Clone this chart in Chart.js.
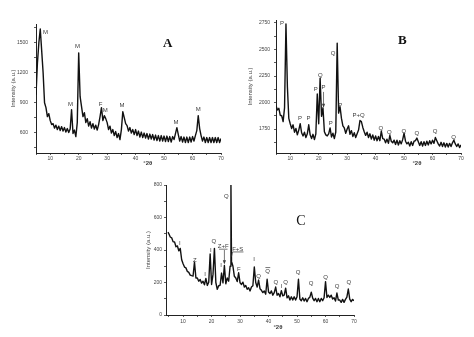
<!DOCTYPE html>
<html>
<head>
<meta charset="utf-8">
<script src="https://cdn.jsdelivr.net/npm/chart.js@4.4.1/dist/chart.umd.min.js"></script>
<style>
  html, body { margin: 0; padding: 0; background: #fff; }
  #wrap { position: relative; width: 474px; height: 337px; overflow: hidden; background: #fff; }
  canvas { position: absolute; }
</style>
</head>
<body>
<div id="wrap">
  <canvas id="panelA" width="237" height="172" style="left:0;top:0"></canvas>
  <canvas id="panelB" width="237" height="172" style="left:237px;top:0"></canvas>
  <canvas id="panelC" width="250" height="165" style="left:120px;top:172px"></canvas>
</div>
<script>
// scan grid shared by samples A and B (°2θ)
const scanAngles = [
  5, 5.5, 6, 6.5, 7, 7.5, 8, 8.5, 9, 9.5,
  10, 10.5, 11, 11.5, 12, 12.5, 13, 13.5, 14, 14.5,
  15, 15.5, 16, 16.5, 17, 17.5, 18, 18.5, 19, 19.5,
  20, 20.5, 21, 21.5, 22, 22.5, 23, 23.5, 24, 24.5,
  25, 25.5, 26, 26.5, 27, 27.5, 28, 28.5, 29, 29.5,
  30, 30.5, 31, 31.5, 32, 32.5, 33, 33.5, 34, 34.5,
  35, 35.5, 36, 36.5, 37, 37.5, 38, 38.5, 39, 39.5,
  40, 40.5, 41, 41.5, 42, 42.5, 43, 43.5, 44, 44.5,
  45, 45.5, 46, 46.5, 47, 47.5, 48, 48.5, 49, 49.5,
  50, 50.5, 51, 51.5, 52, 52.5, 53, 53.5, 54, 54.5,
  55, 55.5, 56, 56.5, 57, 57.5, 58, 58.5, 59, 59.5,
  60, 60.5, 61, 61.5, 62, 62.5, 63, 63.5, 64, 64.5,
  65, 65.5, 66, 66.5, 67, 67.5, 68, 68.5, 69, 69.5,
  70
];

const countsA = [
  980, 1300, 1500, 1640, 1420, 1200, 900, 850, 760, 790,
  720, 680, 690, 645, 675, 630, 665, 620, 660, 615,
  650, 605, 640, 600, 635, 830, 590, 625, 560, 700,
  1400, 960, 860, 760, 800, 700, 740, 665, 710, 645,
  690, 635, 675, 625, 680, 760, 850, 720, 770, 740,
  700, 630, 665, 595, 630, 570, 610, 550, 590, 530,
  630, 810, 750, 690, 670, 615, 650, 595, 630, 580,
  630, 570, 615, 555, 605, 550, 595, 545, 590, 535,
  585, 535, 580, 525, 575, 520, 570, 515, 570, 515,
  565, 510, 565, 510, 560, 505, 560, 530, 590, 650,
  580, 515, 560, 505, 555, 500, 555, 500, 555, 505,
  560, 515, 570, 620, 770, 640, 570, 515, 555, 500,
  550, 500, 550, 500, 550, 500, 550, 500, 550, 500,
  540
];

const countsB = [
  1970, 1930, 1945, 1880, 1875, 1820, 1950, 2740, 2150, 1850,
  1800, 1755, 1790, 1720, 1755, 1695, 1740, 1800, 1715, 1685,
  1720, 1670, 1705, 1790, 1695, 1660, 1700, 1650, 1705, 2080,
  1800, 2230, 1870, 1950, 1725, 1695, 1685, 1705, 1760, 1675,
  1710, 1660, 1720, 2560, 1900, 1960, 1850, 1780, 1760, 1710,
  1750, 1780, 1700, 1735, 1680, 1715, 1670, 1705, 1740, 1830,
  1820, 1765, 1725, 1690, 1720, 1670, 1705, 1655, 1695, 1645,
  1685, 1640, 1680, 1640, 1730, 1660, 1655, 1620, 1655, 1615,
  1690, 1635, 1620, 1645, 1605, 1645, 1600, 1640, 1610, 1650,
  1710, 1635, 1610, 1625, 1590, 1630, 1595, 1635, 1640, 1665,
  1630, 1595, 1630, 1590, 1630, 1595, 1635, 1600, 1640, 1610,
  1645, 1615, 1670, 1640, 1610, 1590, 1625, 1585, 1620, 1580,
  1615, 1580, 1615, 1585, 1620, 1645, 1610, 1585, 1610, 1575,
  1600
];

const angleC = [
  4.7,
  5, 5.5, 6, 6.5, 7, 7.5, 8, 8.5, 9, 9.5,
  10, 10.5, 11, 11.5, 12, 12.5, 13, 13.5, 14, 14.5,
  15, 15.5, 16, 16.5, 17, 17.5, 18, 18.5, 19, 19.5,
  20, 20.5, 21, 21.5, 22, 22.5, 23, 23.5, 24, 24.5,
  25, 25.5, 26, 26.5, 26.8,
  27, 27.5, 28, 28.5, 29, 29.5,
  30, 30.5, 31, 31.5, 32, 32.5, 33, 33.5, 34, 34.5,
  35, 35.5, 36, 36.5, 37, 37.5, 38, 38.5, 39, 39.5,
  40, 40.5, 41, 41.5, 42, 42.5, 43, 43.5, 44, 44.5,
  45, 45.5, 46, 46.5, 47, 47.5, 48, 48.5, 49, 49.5,
  50, 50.5, 51, 51.5, 52, 52.5, 53, 53.5, 54, 54.5,
  55, 55.5, 56, 56.5, 57, 57.5, 58, 58.5, 59, 59.5,
  60, 60.5, 61, 61.5, 62, 62.5, 63, 63.5, 64, 64.5,
  65, 65.5, 66, 66.5, 67, 67.5, 68, 68.5, 69, 69.5,
  70
];

const countsC = [
  510,
  500, 480, 475, 450, 450, 420, 425, 395, 410, 340,
  315, 295, 290, 268, 262, 245, 242, 240, 325, 228,
  228, 208, 218, 196, 208, 186, 225, 182, 202, 375,
  188, 250, 410, 200, 158, 180, 183, 258, 198, 305,
  192, 228, 208, 300, 800,
  330, 300, 238, 228, 206, 260,
  198, 188, 202, 172, 182, 158, 168, 148, 172, 180,
  295, 200, 172, 215, 162, 152, 138, 148, 128, 220,
  142, 132, 148, 122, 138, 172, 122, 132, 112, 150,
  118, 122, 165, 106, 118, 92, 112, 92, 112, 92,
  112, 220, 98, 88, 106, 86, 102, 82, 102, 110,
  140, 104, 88, 102, 82, 102, 82, 102, 88, 106,
  205, 108, 122, 108, 122, 98, 106, 86, 135, 92,
  92, 78, 96, 78, 96, 110, 160, 98, 82, 96,
  88
];

// tick positions (minor and major) for each panel
const xTicks = [5, 10, 15, 20, 25, 30, 35, 40, 45, 50, 55, 60, 65, 70];
const yTicksA = [450, 600, 750, 900, 1050, 1200, 1350, 1500, 1650];
const yTicksB = [1625, 1750, 1875, 2000, 2125, 2250, 2375, 2500, 2625, 2750];
const yTicksC = [0, 100, 200, 300, 400, 500, 600, 700, 800];

// phase labels: text and [°2θ, intensity] anchor
const phaseTextA = ['M', 'M', 'M', 'F', 'M', 'M', 'M', 'M'];
const phaseAtA = [[8.3, 1610], [19.6, 1470], [17.1, 880], [27.7, 880], [29.3, 820], [35.2, 870], [54.2, 700], [62.0, 830]];

const phaseTextB = ['P', 'Q', 'Q', 'P', 'P', 'P', 'P', 'P', 'P', 'P+Q', 'Q', 'Q', 'Q', 'Q', 'Q', 'Q'];
const phaseAtB = [[7.1, 2750], [25.1, 2467], [20.6, 2260], [19.0, 2127], [21.7, 2146], [13.4, 1854], [16.4, 1854],
  [24.2, 1806], [27.6, 1976], [34.0, 1882], [41.8, 1760], [44.8, 1722], [49.9, 1731], [54.5, 1712], [60.9, 1731], [67.4, 1675]];
const leadersB = [[21.7, 2100, 21.7, 1960, true]];

const phaseTextC = ['Q', 'I', 'Z', 'I', 'I', 'Q', 'Z+F', 'I', 'F+S', 'F', 'I', 'Q', 'Q', 'Q', 'I', 'Q', 'Q', 'Q', 'Q', 'Q', 'Q'];
const phaseAtC = [[25.2, 728], [8.9, 441], [14.1, 338], [17.7, 252], [19.7, 400], [20.8, 451], [24.1, 424], [23.3, 307],
  [29.2, 404], [29.6, 278], [34.9, 342], [36.5, 240], [39.7, 266], [42.6, 199], [44.6, 174], [46.0, 199],
  [50.4, 260], [54.9, 195], [60.0, 232], [64.1, 174], [68.2, 199]];
const leadersC = [[22.6, 405, 25.6, 405, false], [24.5, 400, 24.5, 318, true],
  [27.4, 388, 31.2, 388, false], [27.0, 360, 27.4, 388, false], [38.9, 292, 40.6, 292, false]];

const sans = '"Liberation Sans", Arial, sans-serif';
const serif = '"Liberation Serif", "Times New Roman", serif';
const inkGrey = '#3c3c3c';

function markPlugin(p) {
  return {
    id: 'phaseMarks',
    afterDatasetsDraw(chart) {
      const { ctx, chartArea } = chart;
      const sx = chart.scales.x, sy = chart.scales.y;
      ctx.save();
      ctx.fillStyle = inkGrey;
      ctx.strokeStyle = inkGrey;
      ctx.textAlign = 'center';
      ctx.textBaseline = 'middle';
      ctx.font = '6px ' + sans;
      p.phaseText.forEach((t, i) => {
        const [a, v] = p.phaseAt[i];
        ctx.fillText(t, sx.getPixelForValue(a), sy.getPixelForValue(v));
      });

      ctx.lineWidth = 0.7;
      (p.leaders || []).forEach(([a1, v1, a2, v2, head]) => {
        const x1 = sx.getPixelForValue(a1), y1 = sy.getPixelForValue(v1);
        const x2 = sx.getPixelForValue(a2), y2 = sy.getPixelForValue(v2);
        ctx.beginPath();
        ctx.moveTo(x1, y1);
        ctx.lineTo(x2, y2);
        ctx.stroke();
        if (head) {
          ctx.beginPath();
          ctx.moveTo(x2, y2 + 1);
          ctx.lineTo(x2 - 1.6, y2 - 3);
          ctx.lineTo(x2 + 1.6, y2 - 3);
          ctx.closePath();
          ctx.fill();
        }
      });

      // panel letter
      ctx.fillStyle = '#111';
      ctx.font = p.letterFont;
      ctx.fillText(p.letter, sx.getPixelForValue(p.letterAt[0]), sy.getPixelForValue(p.letterAt[1]));

      // x axis title
      ctx.fillStyle = inkGrey;
      ctx.font = 'bold 6px ' + sans;
      ctx.fillText('°2θ', sx.getPixelForValue(p.xTitleAt), chartArea.bottom + p.xTitleGap);
      ctx.restore();
    }
  };
}

function makePanel(id, p) {
  const points = p.angles.map((a, i) => ({ x: a, y: p.counts[i] }));
  const tickFont = { family: sans, size: 5 };
  const axisGrid = { display: true, drawOnChartArea: false, drawTicks: true, tickLength: 2, color: '#333', lineWidth: 0.8 };
  const axisBorder = { display: true, color: '#222', width: 1 };

  return new Chart(document.getElementById(id), {
    type: 'line',
    data: {
      datasets: [{
        data: points,
        borderColor: '#111',
        borderWidth: 1.4,
        borderJoinStyle: 'round',
        pointRadius: 0,
        tension: 0,
        fill: false
      }]
    },
    options: {
      responsive: false,
      animation: false,
      events: [],
      layout: { padding: { top: p.padTop, right: p.padRight, left: 0, bottom: 0 } },
      plugins: { legend: { display: false }, tooltip: { enabled: false } },
      scales: {
        x: {
          type: 'linear',
          min: p.xMin,
          max: 70,
          ticks: {
            autoSkip: false, maxRotation: 0, padding: p.xTickPad,
            font: tickFont, color: '#444',
            callback: v => (v % 10 === 0 ? v : '')
          },
          grid: axisGrid,
          border: axisBorder,
          afterBuildTicks: s => { s.ticks = xTicks.map(v => ({ value: v })); },
          afterFit: s => { s.height = p.xAxisHeight; }
        },
        y: {
          type: 'linear',
          min: p.yMin,
          max: p.yMax,
          ticks: {
            autoSkip: false, padding: p.yTickPad,
            font: tickFont, color: '#444',
            callback: v => (v % p.yLabelEvery === 0 ? v : '')
          },
          title: {
            display: true,
            text: 'Intensity (a.u.)',
            font: { family: sans, size: 6 },
            color: '#444',
            padding: { top: p.yTitlePad, bottom: 0 }
          },
          grid: axisGrid,
          border: axisBorder,
          afterBuildTicks: s => { s.ticks = p.yTicks.map(v => ({ value: v })); },
          afterFit: s => { s.width = p.yAxisWidth; }
        }
      }
    },
    plugins: [markPlugin(p)]
  });
}

makePanel('panelA', {
  angles: scanAngles, counts: countsA,
  xMin: 5, yMin: 395, yMax: 1690, yTicks: yTicksA, yLabelEvery: 300,
  padTop: 24, padRight: 16, xAxisHeight: 19, yAxisWidth: 36,
  xTickPad: 1, yTickPad: 6, yTitlePad: 9.4,
  phaseText: phaseTextA, phaseAt: phaseAtA,
  letter: 'A', letterAt: [51.3, 1490], letterFont: 'bold 13px ' + serif,
  xTitleAt: 44.3, xTitleGap: 10
});

makePanel('panelB', {
  angles: scanAngles, counts: countsB,
  xMin: 5, yMin: 1524, yMax: 2778, yTicks: yTicksB, yLabelEvery: 250,
  padTop: 20, padRight: 13, xAxisHeight: 19, yAxisWidth: 39,
  xTickPad: 1, yTickPad: 4, yTitlePad: 9.4,
  phaseText: phaseTextB, phaseAt: phaseAtB, leaders: leadersB,
  letter: 'B', letterAt: [49.4, 2580], letterFont: 'bold 13px ' + serif,
  xTitleAt: 54.5, xTitleGap: 10
});

makePanel('panelC', {
  angles: angleC, counts: countsC,
  xMin: 4, yMin: 0, yMax: 800, yTicks: yTicksC, yLabelEvery: 200,
  padTop: 13, padRight: 16, xAxisHeight: 22, yAxisWidth: 46,
  xTickPad: 2, yTickPad: 2, yTitlePad: 24.4,
  phaseText: phaseTextC, phaseAt: phaseAtC, leaders: leadersC,
  letter: 'C', letterAt: [51.4, 578], letterFont: '14px ' + serif,
  xTitleAt: 43.3, xTitleGap: 12
});
</script>
</body>
</html>
